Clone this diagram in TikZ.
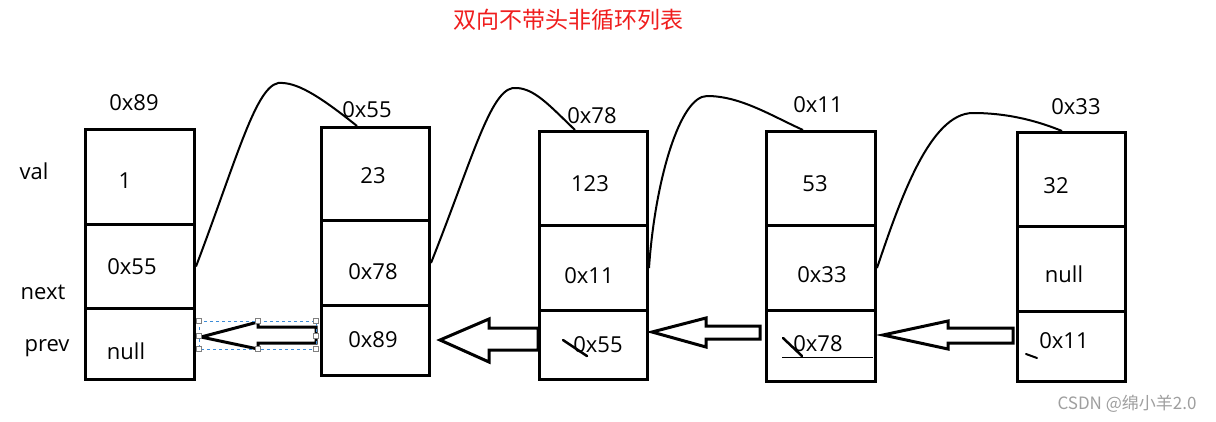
\documentclass[tikz,border=0pt]{standalone}
\usepackage{fontspec}
\setmainfont{Open Sans}
\newfontfamily\cjk{Noto Sans CJK SC}
\usetikzlibrary{calc}
\definecolor{titlered}{RGB}{240,30,30}
\definecolor{selblue}{RGB}{60,140,215}
\begin{document}
\begin{tikzpicture}[x=1pt,y=-1pt,
  cell/.style={draw, line width=3pt, inner sep=0pt, anchor=north west},
  txt/.style={font=\fontsize{22}{26}\selectfont, anchor=base, inner sep=0pt},
  link/.style={line width=2pt},
  blockarrow/.style={draw, fill=white, line width=3pt, line join=miter},
  handle/.style={draw=gray, fill=white, line width=0.6pt, minimum size=4.5pt, inner sep=0pt},
  scribble/.style={line width=2.5pt, line cap=round},
]
\useasboundingbox[fill=white] (0,0) rectangle (1216,421);

% title
\node[font=\cjk\fontsize{23}{26}\selectfont, text=titlered, inner sep=0pt] (title) at (568,20) {双向不带头非循环列表};

% side labels
\node[txt] (lval) at (34,179) {val};
\node[txt] (lnext) at (43,299) {next};
\node[txt] (lprev) at (47,351) {prev};

% box 1
\node[cell, minimum width=109pt, minimum height=95pt] (v1) at (84,128) {};
\node[cell, minimum width=109pt, minimum height=84pt] (n1) at (84,223) {};
\node[cell, minimum width=109pt, minimum height=71pt] (p1) at (84,307) {};
% box 2
\node[cell, minimum width=108pt, minimum height=93pt] (v2) at (320,126) {};
\node[cell, minimum width=108pt, minimum height=85pt] (n2) at (320,219) {};
\node[cell, minimum width=108pt, minimum height=70pt] (p2) at (320,304) {};
% box 3
\node[cell, minimum width=108pt, minimum height=94pt] (v3) at (538,130) {};
\node[cell, minimum width=108pt, minimum height=85pt] (n3) at (538,224) {};
\node[cell, minimum width=108pt, minimum height=69pt] (p3) at (538,309) {};
% box 4
\node[cell, minimum width=109pt, minimum height=94pt] (v4) at (765,130) {};
\node[cell, minimum width=109pt, minimum height=85pt] (n4) at (765,224) {};
\node[cell, minimum width=109pt, minimum height=71pt] (p4) at (765,309) {};
% box 5
\node[cell, minimum width=108pt, minimum height=94pt] (v5) at (1016,131) {};
\node[cell, minimum width=108pt, minimum height=85pt] (n5) at (1016,225) {};
\node[cell, minimum width=108pt, minimum height=70pt] (p5) at (1016,310) {};

% addresses
\node[txt] (a1) at (134,110) {0x89};
\node[txt] (a2) at (367,117) {0x55};
\node[txt] (a3) at (592,123) {0x78};
\node[txt] (a4) at (818,112) {0x11};
\node[txt] (a5) at (1076,114) {0x33};

% values
\node[txt] (t1v) at (125,188) {1};
\node[txt] (t2v) at (373,183) {23};
\node[txt] (t3v) at (590,191) {123};
\node[txt] (t4v) at (815,191) {53};
\node[txt] (t5v) at (1056,193) {32};
% next
\node[txt] (t1n) at (132,274) {0x55};
\node[txt] (t2n) at (373,279) {0x78};
\node[txt] (t3n) at (589,283) {0x11};
\node[txt] (t4n) at (822,282) {0x33};
\node[txt] (t5n) at (1064,282) {null};
% prev
\node[txt] (t1p) at (126,359) {null};
\node[txt] (t2p) at (373,347) {0x89};
\node[txt] (t3p) at (598,352) {0x55};
\node[txt] (t4p) at (818,351) {0x78};
\node[txt] (t5p) at (1064,348) {0x11};

% next links
\draw[link] (n1.east) .. controls (240,150) and (258,78) .. (283,83)
  .. controls (300,84) and (322,98) .. ($(v2.north west)+(37,0)$);
\draw[link] (n2.east) .. controls (475,152) and (492,84) .. (517,88)
  .. controls (535,89) and (550,106) .. ($(v3.north west)+(37,0)$);
\draw[link] (n3.east) .. controls (655,180) and (680,96) .. (707,96)
  .. controls (740,96) and (770,115) .. ($(v4.north west)+(38,0)$);
\draw[link] (n4.east) .. controls (900,200) and (930,113) .. (973,113)
  .. controls (1010,113) and (1040,122) .. ($(v5.north west)+(46,0)$);

% prev block arrows
\draw[blockarrow] (201,337) -- (258,322) -- (258,327) -- (316,327) -- (316,343) -- (258,343) -- (258,349) -- cycle;
\draw[blockarrow] (440,340) -- (489,319) -- (489,328) -- (538,328) -- (538,350) -- (489,350) -- (489,362) -- cycle;
\draw[blockarrow] (652,332) -- (706,318) -- (706,326) -- (760,326) -- (760,339) -- (706,339) -- (706,347) -- cycle;
\draw[blockarrow] (883,335) -- (948,321) -- (948,328) -- (1013,328) -- (1013,343) -- (948,343) -- (948,349) -- cycle;

% selection frame around first arrow
\draw[selblue, dashed, line width=0.8pt] (199,321) rectangle (316,349);
\foreach \px/\py [count=\i] in {199/321,258/321,316/321,199/336,316/336,199/349,258/349,316/349}
  \node[handle] (h\i) at (\px,\py) {};

% scribbles
\draw[scribble] (563,340) -- (587,356);
\draw[scribble] (783,338) -- (802,356);
\draw[line width=1pt] (782,357) -- (873,357);
\draw[scribble, line width=2pt] (1026,354) -- (1037,358);

% watermark
\node[font=\cjk\fontsize{17}{19}\selectfont, text=gray!75, inner sep=0pt] (wm) at (1127,404) {CSDN @绵小羊2.0};
\end{tikzpicture}
\end{document}
